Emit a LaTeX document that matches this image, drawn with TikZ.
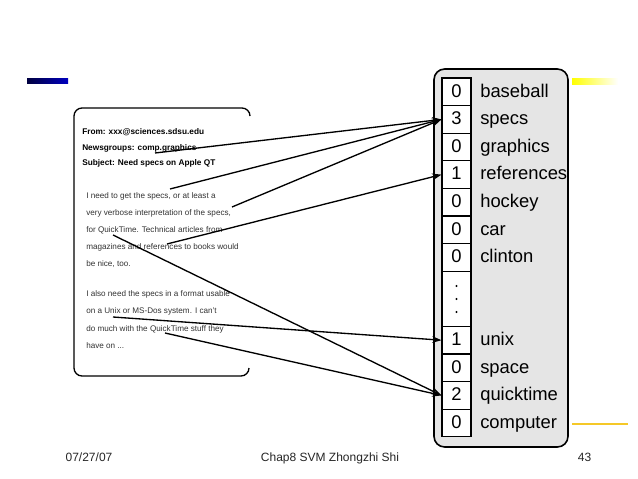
\documentclass[tikz,border=0pt]{standalone}
\usepackage{fontspec}
\setmainfont{Liberation Sans}
\usetikzlibrary{arrows.meta}

\begin{document}
\begin{tikzpicture}[x=0.75pt, y=-0.75pt,
    cell/.style={draw, line width=0.8pt, fill=white, minimum width=21.75pt, minimum height=20.7pt, inner sep=0pt,
      font=\fontsize{13.8}{16}\selectfont, text height=10.5pt, text depth=2.5pt},
    gap/.style={draw, line width=0.8pt, fill=white, minimum width=21.75pt, minimum height=41.4pt, inner sep=0pt},
    word/.style={anchor=west, inner sep=0pt, font=\fontsize{13.8}{16}\selectfont, text height=10.5pt, text depth=2.5pt},
    head/.style={anchor=west, inner sep=0pt, font=\fontsize{6.2}{7}\selectfont\bfseries},
    body/.style={anchor=west, inner sep=0pt, font=\fontsize{6.1}{7}\selectfont, text=black!80},
    foot/.style={anchor=base, inner sep=0pt, font=\fontsize{9}{10}\selectfont, text=black!85},
    >={Stealth[length=7pt, width=5pt]}]
  \useasboundingbox (0,0) rectangle (638,478);
  \fill[white] (0,0) rectangle (638,478);
  % slide decoration
  \shade[left color=blue!25!black, right color=blue!75!black] (27,78) rectangle (68,83);
  \shade[left color=yellow, middle color=yellow!80, right color=white] (572,78) rectangle (618,84);
  \draw[line width=1.5pt, color={rgb,255:red,245;green,200;blue,40}] (572,424) -- (628,424);

  % the news article
  \draw[line width=1pt, rounded corners=6] (250,116) -- (250,108) -- (74,108) -- (74,376) -- (249,376) -- (249,368);
  \node[head] (from) at (82,132) {From: xxx@sciences.sdsu.edu};
  \node[head] (group) at (82,148) {Newsgroups: comp.graphics};
  \node[head] (subject) at (82,163) {Subject: Need specs on Apple QT};
  \node[body] (line1) at (86,196) {I need to get the specs, or at least a};
  \node[body] (line2) at (86,213) {very verbose interpretation of the specs,};
  \node[body] (line3) at (86,230) {for QuickTime. Technical articles from};
  \node[body] (line4) at (86,247) {magazines and references to books would};
  \node[body] (line5) at (86,264) {be nice, too.};
  \node[body] (line6) at (86,294) {I also need the specs in a format usable};
  \node[body] (line7) at (86,311) {on a Unix or MS-Dos system. I can't};
  \node[body] (line8) at (86,329) {do much with the QuickTime stuff they};
  \node[body] (line9) at (86,346) {have on ...};

  % the word vector
  \draw[line width=1.2pt, fill=black!10, rounded corners=8] (434,69) rectangle (568,447);
  \node[cell] (baseball) at (456.5,91.8) {0};
  \node[cell] (specs) at (456.5,119.4) {3};
  \node[cell] (graphics) at (456.5,147) {0};
  \node[cell] (references) at (456.5,174.6) {1};
  \node[cell] (hockey) at (456.5,202.2) {0};
  \node[cell] (car) at (456.5,229.8) {0};
  \node[cell] (clinton) at (456.5,257.4) {0};
  \node[gap] (dots) at (456.5,298.8) {};
  \fill (456.5,286) circle (0.9pt) (456.5,299) circle (0.9pt) (456.5,312) circle (0.9pt);
  \node[cell] (unix) at (456.5,340.2) {1};
  \node[cell] (space) at (456.5,367.8) {0};
  \node[cell] (quicktime) at (456.5,395.4) {2};
  \node[cell] (computer) at (456.5,423) {0};
  \node[word] (w-baseball) at (480,91.8) {baseball};
  \node[word] (w-specs) at (480,119.4) {specs};
  \node[word] (w-graphics) at (480,147) {graphics};
  \node[word] (w-references) at (480,174.6) {references};
  \node[word] (w-hockey) at (480,202.2) {hockey};
  \node[word] (w-car) at (480,229.8) {car};
  \node[word] (w-clinton) at (480,257.4) {clinton};
  \node[word] (w-unix) at (480,340.2) {unix};
  \node[word] (w-space) at (480,367.8) {space};
  \node[word] (w-quicktime) at (480,395.4) {quicktime};
  \node[word] (w-computer) at (480,423) {computer};

  % words in the article to their counts
  \coordinate (a-graphics) at (155,153);
  \coordinate (a-specs1) at (170,189);
  \coordinate (a-specs2) at (232,207);
  \coordinate (a-refs) at (167,244);
  \coordinate (a-qt1) at (113,235);
  \coordinate (a-unix) at (113,317);
  \coordinate (a-qt2) at (165,333);
  \draw[line width=1pt, ->] (a-graphics) -- (specs.west);
  \draw[line width=1pt, ->] (a-specs1) -- (specs.west);
  \draw[line width=1pt, ->] (a-specs2) -- (specs.west);
  \draw[line width=1pt, ->] (a-refs) -- (references.west);
  \draw[line width=1pt, ->] (a-qt1) -- (quicktime.west);
  \draw[line width=1pt, ->] (a-unix) -- (unix.west);
  \draw[line width=1pt, ->] (a-qt2) -- (quicktime.west);

  % footer
  \node[foot] (date) at (89,461) {07/27/07};
  \node[foot] (title) at (330,461) {Chap8 SVM Zhongzhi Shi};
  \node[foot] (page) at (584.5,461) {43};
\end{tikzpicture}
\end{document}
